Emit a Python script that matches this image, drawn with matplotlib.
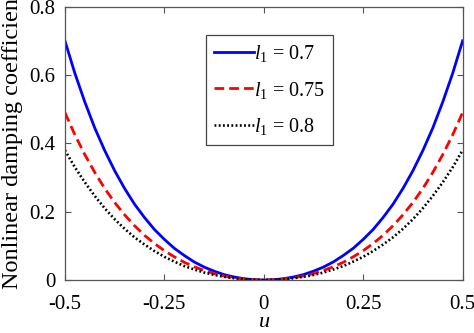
import matplotlib
matplotlib.use("Agg")
import matplotlib.pyplot as plt

plt.rcParams['font.family'] = ['Liberation Serif', 'DejaVu Serif']
plt.rcParams['mathtext.fontset'] = 'custom'
plt.rcParams['mathtext.rm'] = 'Liberation Serif'
plt.rcParams['mathtext.it'] = 'Liberation Serif:italic'
plt.rcParams['axes.unicode_minus'] = False

# data
u = [-0.5, -0.475, -0.45, -0.425, -0.4, -0.375, -0.35, -0.325, -0.3, -0.275,
     -0.25, -0.225, -0.2, -0.175, -0.15, -0.125, -0.1, -0.075, -0.05, -0.025,
     0.0,
     0.025, 0.05, 0.075, 0.1, 0.125, 0.15, 0.175, 0.2, 0.225, 0.25,
     0.275, 0.3, 0.325, 0.35, 0.375, 0.4, 0.425, 0.45, 0.475, 0.5]
c_07 = [0.70, 0.605, 0.521, 0.445, 0.379, 0.320, 0.268, 0.222, 0.183, 0.148,
        0.119, 0.093, 0.072, 0.053, 0.038, 0.026, 0.016, 0.009, 0.004, 0.001,
        0.0,
        0.001, 0.004, 0.009, 0.016, 0.026, 0.038, 0.053, 0.072, 0.093, 0.119,
        0.148, 0.183, 0.222, 0.268, 0.320, 0.379, 0.445, 0.521, 0.605, 0.70]
c_075 = [0.49, 0.425, 0.367, 0.315, 0.268, 0.227, 0.191, 0.159, 0.131, 0.107,
         0.086, 0.068, 0.052, 0.039, 0.028, 0.019, 0.012, 0.0067, 0.003, 0.0007,
         0.0,
         0.0007, 0.003, 0.0067, 0.012, 0.019, 0.028, 0.039, 0.052, 0.068, 0.086,
         0.107, 0.131, 0.159, 0.191, 0.227, 0.268, 0.315, 0.367, 0.425, 0.49]
c_08 = [0.38, 0.330, 0.286, 0.246, 0.210, 0.178, 0.150, 0.125, 0.104, 0.085,
        0.068, 0.054, 0.041, 0.031, 0.022, 0.015, 0.0097, 0.0054, 0.0024, 0.0006,
        0.0,
        0.0006, 0.0024, 0.0054, 0.0097, 0.015, 0.022, 0.031, 0.041, 0.054, 0.068,
        0.085, 0.104, 0.125, 0.150, 0.178, 0.210, 0.246, 0.286, 0.330, 0.38]
labels = [r'$l_1$ = 0.7', r'$l_1$ = 0.75', r'$l_1$ = 0.8']
xticks = [-0.5, -0.25, 0, 0.25, 0.5]
xticklabels = ['-0.5', '-0.25', '0', '0.25', '0.5']
yticks = [0, 0.2, 0.4, 0.6, 0.8]
yticklabels = ['0', '0.2', '0.4', '0.6', '0.8']

fig = plt.figure(figsize=(4.74, 3.33), dpi=100)
ax = fig.add_axes([0.137, 0.159, 0.839, 0.821])

ax.plot(u, c_07, color='#0000ff', lw=2.0, ls='-', label=labels[0])
ax.plot(u, c_075, color='#ff0000', lw=2.0, ls=(0, (3.5, 1.8)), label=labels[1])
ax.plot(u, c_08, color='black', lw=1.9, ls=(0, (0.7, 0.9)), label=labels[2])

ax.set_xlim(-0.5, 0.5)
ax.set_ylim(0, 0.8)
ax.set_xticks(xticks)
ax.set_xticklabels(xticklabels)
ax.set_yticks(yticks)
ax.set_yticklabels(yticklabels)
ax.tick_params(direction='in', top=True, right=True, labelsize=15, length=4,
               color='#555555')
ax.tick_params(axis='y', pad=7)
ax.tick_params(axis='x', pad=11)
for s in ax.spines.values():
    s.set_color('#555555')
    s.set_linewidth(0.9)

ax.set_xlabel(r'$u$', fontsize=16, labelpad=-1)
fig.text(2 / 474, 1 - 289 / 333, 'Nonlinear damping coefficient', fontsize=17.5,
         rotation=90, ha='left', va='bottom')

leg = ax.legend(loc='upper left', bbox_to_anchor=(0.355, 0.895), fontsize=14.5,
                frameon=True, fancybox=False, framealpha=1, edgecolor='#444444',
                handlelength=2.0, handletextpad=0.0, borderpad=0.4,
                labelspacing=0.75, borderaxespad=0)
leg.get_frame().set_linewidth(0.9)

fig.savefig('out.png', dpi=100)
